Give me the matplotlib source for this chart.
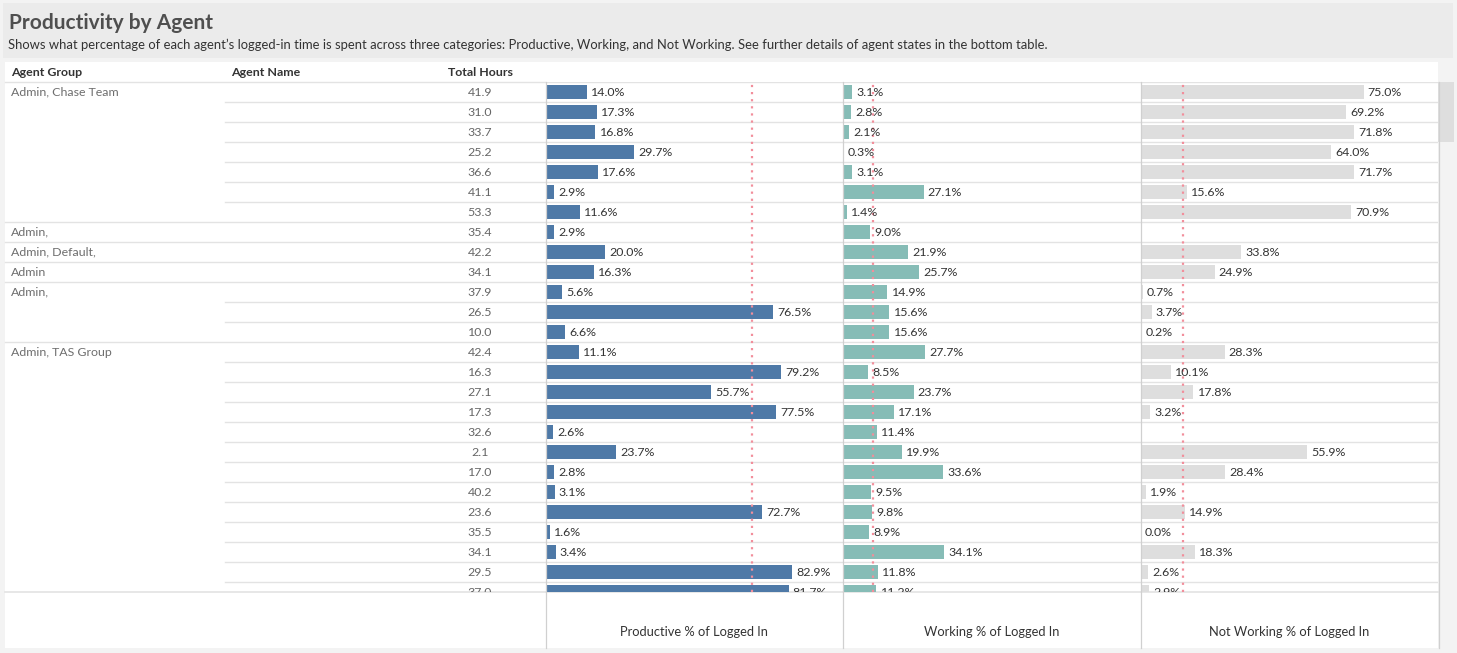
import matplotlib
matplotlib.use("Agg")
import matplotlib.pyplot as plt
from matplotlib.patches import Rectangle
from matplotlib.lines import Line2D

plt.rcParams['font.family'] = ['Lato', 'DejaVu Sans']

# ---------------- data ----------------
title = "Productivity by Agent"
subtitle = ("Shows what percentage of each agent\u2019s logged-in time is spent across three categories: "
            "Productive, Working, and Not Working. See further details of agent states in the bottom table.")
col_headers = ["Agent Group", "Agent Name", "Total Hours"]
panel_titles = ["Productive % of Logged In", "Working % of Logged In", "Not Working % of Logged In"]

group_names = ["Admin, Chase Team", "Admin,", "Admin, Default,", "Admin", "Admin,", "Admin, TAS Group"]
group_sizes = [7, 1, 1, 1, 3, 13]

total_hours = [41.9, 31.0, 33.7, 25.2, 36.6, 41.1, 53.3, 35.4, 42.2, 34.1, 37.9, 26.5, 10.0,
               42.4, 16.3, 27.1, 17.3, 32.6, 2.1, 17.0, 40.2, 23.6, 35.5, 34.1, 29.5, 37.0]
productive = [14.0, 17.3, 16.8, 29.7, 17.6, 2.9, 11.6, 2.9, 20.0, 16.3, 5.6, 76.5, 6.6,
              11.1, 79.2, 55.7, 77.5, 2.6, 23.7, 2.8, 3.1, 72.7, 1.6, 3.4, 82.9, 81.7]
working = [3.1, 2.8, 2.1, 0.3, 3.1, 27.1, 1.4, 9.0, 21.9, 25.7, 14.9, 15.6, 15.6,
           27.7, 8.5, 23.7, 17.1, 11.4, 19.9, 33.6, 9.5, 9.8, 8.9, 34.1, 11.8, 11.2]
not_working = [75.0, 69.2, 71.8, 64.0, 71.7, 15.6, 70.9, None, 33.8, 24.9, 0.7, 3.7, 0.2,
               28.3, 10.1, 17.8, 3.2, None, 55.9, 28.4, 1.9, 14.9, 0.0, 18.3, 2.6, 2.9]
reference_lines = [69.3, 10.0, 14.3]

# ---------------- styles / layout ----------------
W, H = 1457, 653
bar_colors = ["#4e79a7", "#86bcb6", "#dedede"]
ref_color = "#f28e9b"
grid_color = "#e3e3e3"
sep_color = "#d0d0d0"
body_fs = 8.9

fig = plt.figure(figsize=(W / 100, H / 100), dpi=100)
fig.patch.set_facecolor("#f3f3f3")


def fx(x):
    return x / W


def fy(y):
    return 1 - y / H


def frect(x0, y0, x1, y1, color):
    fig.patches.append(Rectangle((fx(x0), fy(y1)), fx(x1) - fx(x0), fy(y0) - fy(y1),
                                 transform=fig.transFigure, facecolor=color, edgecolor="none", zorder=-10))


def fline(x0, y0, x1, y1, color, lw=1.0):
    fig.lines.append(Line2D([fx(x0), fx(x1)], [fy(y0), fy(y1)], transform=fig.transFigure,
                            color=color, lw=lw, zorder=5))


# background panels
frect(3, 3, 1453, 58, "#ebebeb")
frect(5, 62, 1438, 648, "#ffffff")
frect(1438, 82, 1454, 142, "#dedede")

# title
fig.text(fx(9), fy(23), title, fontsize=15, fontweight="bold", color="#4f4f4f", va="center", ha="left")
fig.text(fx(8), fy(45), subtitle, fontsize=9.35, color="#333333", va="center", ha="left")

# headers
for txt, x in zip(col_headers, [11, 231, 448]):
    fig.text(fx(x), fy(73), txt, fontsize=body_fs, fontweight="bold", color="#333333", va="center", ha="left")

n = len(total_hours)
top, bottom = 82, 592
ylim = (25.0, -0.5)

# ---------------- table (left) axes ----------------
tab = fig.add_axes([fx(5), fy(bottom), fx(545) - fx(5), fy(top) - fy(bottom)])
tab.set_xlim(5, 545)
tab.set_ylim(*ylim)
tab.axis("off")

group_starts = []
s = 0
for g in group_sizes:
    group_starts.append(s)
    s += g

for i in range(-1, n):
    yb = i + 0.5
    if yb >= ylim[0]:
        continue
    if i == -1 or (i + 1) in group_starts:
        tab.plot([5, 545], [yb, yb], color=grid_color, lw=1, clip_on=False)
    else:
        tab.plot([225, 545], [yb, yb], color=grid_color, lw=1, clip_on=False)
tab.plot([5, 545], [ylim[0], ylim[0]], color=grid_color, lw=1.2, clip_on=False)

for name, st in zip(group_names, group_starts):
    tab.text(11, st, name, fontsize=body_fs, color="#6e6e6e", va="center", ha="left")

for i, h in enumerate(total_hours):
    tab.text(480, i, f"{h:.1f}", fontsize=body_fs, color="#666666", va="center", ha="center", clip_on=True)

# ---------------- bar panels ----------------
panel_lefts = [545.5, 843.0, 1140.5]
panel_w = 297.5
series = [productive, working, not_working]

for k, (vals, left) in enumerate(zip(series, panel_lefts)):
    ax = fig.add_axes([fx(left), fy(bottom), panel_w / W, (bottom - top) / H])
    ax.set_xlim(0, 100)
    ax.set_ylim(*ylim)
    ax.axis("off")
    for i in range(-1, n):
        if i + 0.5 < ylim[0]:
            ax.axhline(i + 0.5, color=grid_color, lw=1, zorder=1)
    ax.axhline(ylim[0], color=grid_color, lw=1.2, zorder=1, clip_on=False)
    ys = [i for i, v in enumerate(vals) if v is not None]
    vs = [v for v in vals if v is not None]
    ax.barh(ys, vs, height=0.74, color=bar_colors[k], zorder=2)
    ax.axvline(reference_lines[k], color=ref_color, lw=1.6, ls=(0, (1, 2.2)), zorder=3)
    for y, v in zip(ys, vs):
        ax.annotate(f"{v:.1f}%", xy=(v, y), xytext=(3, 0), textcoords="offset points",
                    fontsize=body_fs, color="#333333", va="center", ha="left",
                    annotation_clip=False, clip_on=True, zorder=4)
    fig.text(fx(left + panel_w / 2), fy(632), panel_titles[k], fontsize=9.3, color="#333333",
             va="center", ha="center")

# vertical separators
for x in panel_lefts + [1438.5]:
    fline(x, 82, x, 648, sep_color, lw=0.9)

fig.savefig("out.png", dpi=100, facecolor=fig.get_facecolor())
